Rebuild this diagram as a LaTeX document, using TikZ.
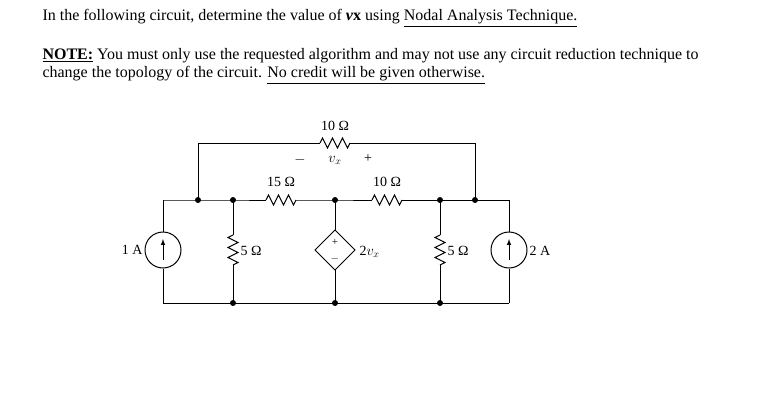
\documentclass[tikz,border=0pt]{standalone}
\usepackage{fontspec}
\setmainfont{Liberation Serif}
\begin{document}
\begin{tikzpicture}[x=1pt,y=-1pt,line width=1pt,
  dot/.style={circle,fill,inner sep=0pt,minimum size=6pt},
  lbl/.style={font=\fontsize{14}{15}\selectfont,inner sep=1pt},
  hres/.pic={\draw (-15,0) -- (-12.5,-5) -- (-7.5,5) -- (-2.5,-5) -- (2.5,5) -- (7.5,-5) -- (12.5,5) -- (15,0);},
  vres/.pic={\draw (0,-15) -- (-5,-12.5) -- (5,-7.5) -- (-5,-2.5) -- (5,2.5) -- (-5,7.5) -- (5,12.5) -- (0,15);}]
\useasboundingbox (0,0) rectangle (767,417);
\begin{scope}[every node/.style={anchor=base west,inner sep=0pt,font=\fontsize{16}{18}\selectfont}]
\node (t1) at (42,21) {In the following circuit, determine the value of \textbf{\textit{v}}\textbf{x} using \underline{Nodal Analysis Technique.}};
\node (t2) at (42,60) {\underline{\textbf{NOTE:}} You must only use the requested algorithm and may not use any circuit reduction technique to};
\node (t3) at (42,78) {change the topology of the circuit. \underline{No credit will be given otherwise.}};
\end{scope}
% coordinates
\coordinate (lt) at (163,200); \coordinate (lb) at (163,303);
\coordinate (n1) at (198,200); \coordinate (n2) at (233,200);
\coordinate (nm) at (335,200); \coordinate (n4) at (440,200);
\coordinate (n5) at (475,200); \coordinate (rt) at (509,200);
\coordinate (rb) at (509,303);
\coordinate (b2) at (233,303); \coordinate (bm) at (335,303); \coordinate (b4) at (440,303);
\coordinate (tl) at (198,143); \coordinate (tr) at (475,143);
\coordinate (dt) at (335,230); \coordinate (db) at (335,270);
\coordinate (dl) at (315,250); \coordinate (dr) at (355,250);
% wires
\draw (n1) -- (tl) -- (320,143);
\draw (350,143) -- (tr) -- (n5);
\draw (lt) -- (n2) -- (266,200); \draw (296,200) -- (nm) -- (372,200);
\draw (402,200) -- (rt);
\draw (lb) -- (rb);
\draw (n2) -- (233,235); \draw (233,265) -- (b2);
\draw (n4) -- (440,235); \draw (440,265) -- (b4);
\pic at (335,143) {hres};
\pic at (281,200) {hres};
\pic at (387,200) {hres};
\pic at (233,250) {vres};
\pic at (440,250) {vres};
% sources
\node[draw,circle,minimum size=36pt,inner sep=0pt] (s1) at (163,250) {};
\draw (lt) -- (s1) -- (lb);
\draw[-latex] (163,260) -- (163,239);
\node[draw,circle,minimum size=36pt,inner sep=0pt] (s2) at (509,250) {};
\draw (rt) -- (s2) -- (rb);
\draw[-latex] (509,260) -- (509,239);
\draw (dt) -- (dr) -- (db) -- (dl) -- cycle;
\draw (nm) -- (dt); \draw (db) -- (bm);
\node[lbl,font=\fontsize{11}{11}\selectfont] at (335,242) {+};
\node[lbl,font=\fontsize{11}{11}\selectfont] at (335,259) {$-$};
% dots
\foreach \p in {n1,n2,nm,n4,n5,b2,bm,b4} \node[dot] at (\p) {};
% labels
\node[lbl] at (335,126) {10 Ω};
\node[lbl] at (300,160) {$-$};
\node[lbl] at (335,160) {$v_x$};
\node[lbl] at (368,159) {+};
\node[lbl] at (281,182) {15 Ω};
\node[lbl] at (387,182) {10 Ω};
\node[lbl,anchor=east] at (144,250) {1 A};
\node[lbl,anchor=west] at (239,251) {5 Ω};
\node[lbl,anchor=west] at (358,252) {2$v_x$};
\node[lbl,anchor=west] at (446,251) {5 Ω};
\node[lbl,anchor=west] at (528,251) {2 A};
\end{tikzpicture}
\end{document}
